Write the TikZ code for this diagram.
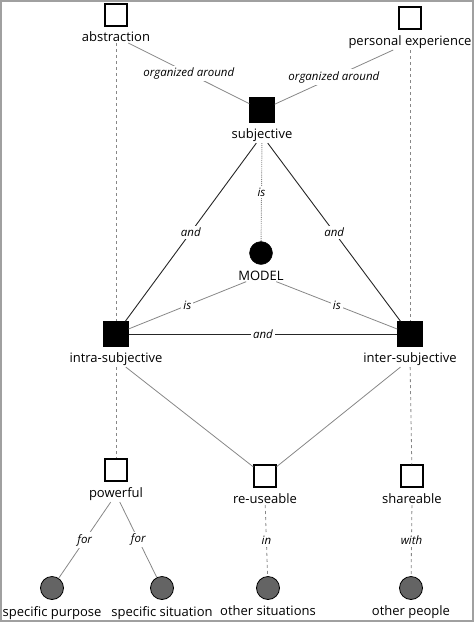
\documentclass[tikz,border=0pt]{standalone}
\usepackage{fontspec}
\setmainfont{Open Sans}
\usetikzlibrary{positioning}
\definecolor{linegray}{RGB}{135,135,135}
\definecolor{leafgray}{RGB}{100,100,100}
\definecolor{framegray}{RGB}{160,160,160}
\newcommand{\widthopen}{22pt}
\newcommand{\widthdark}{25pt}
\newcommand{\widthdot}{23pt}
\tikzset{
    common/.style={draw, rectangle, inner sep=0pt},
    openbox/.style={common, line width=1.2pt, minimum size=\widthopen},
    darkbox/.style={common, fill=black, minimum size=\widthdark},
    modeldot/.style={draw, circle, fill=black, minimum size=\widthdot},
    leafdot/.style={draw, circle, thick, fill=leafgray, minimum size=\widthdot},
    caption/.style={font=\fontsize{13}{15}\selectfont, inner sep=1pt},
    rel/.style={fill=white, font=\fontsize{11.5}{13}\selectfont\itshape, inner sep=2pt},
    strong/.style={draw=black!85, line width=0.9pt},
    weak/.style={draw=linegray, line width=0.8pt},
    hint/.style={draw=linegray, dashed, line width=0.8pt},
    link/.style={draw=linegray, densely dotted, line width=0.9pt}
}

\begin{document}
\begin{tikzpicture}[x=1pt, y=-1pt]
    \useasboundingbox (0,0) rectangle (474,622);
    \draw[framegray, line width=2pt] (1,1) rectangle (473,621);

    % top row
    \node[openbox] (abstraction) at (116,15) {};
    \node[caption, below=4pt of abstraction] (abstraction-text) {abstraction};
    \node[openbox] (experience) at (410,18) {};
    \node[caption, below=5pt of experience] (experience-text) {personal experience};

    % triangle
    \node[darkbox] (subjective) at (262,110) {};
    \node[caption, below=5pt of subjective] (subjective-text) {subjective};
    \node[modeldot] (model) at (261,253) {};
    \node[caption, below=5pt of model] (model-text) {MODEL};
    \node[darkbox] (intra) at (116,334) {};
    \node[caption, below=5pt of intra] (intra-text) {intra-subjective};
    \node[darkbox] (inter) at (410,334) {};
    \node[caption, below=5pt of inter] (inter-text) {inter-subjective};

    % qualities
    \node[openbox] (powerful) at (116,470) {};
    \node[caption, below=5pt of powerful] (powerful-text) {powerful};
    \node[openbox] (reuseable) at (265,476) {};
    \node[caption, below=5pt of reuseable] (reuseable-text) {re-useable};
    \node[openbox] (shareable) at (412,476) {};
    \node[caption, below=5pt of shareable] (shareable-text) {shareable};

    % leaves
    \node[leafdot] (purpose) at (52,588) {};
    \node[caption, below=5pt of purpose] (purpose-text) {specific purpose};
    \node[leafdot] (situation) at (162,588) {};
    \node[caption, below=5pt of situation] (situation-text) {specific situation};
    \node[leafdot] (situations) at (268,588) {};
    \node[caption, below=5pt of situations] (situations-text) {other situations};
    \node[leafdot] (people) at (411,588) {};
    \node[caption, below=5pt of people] (people-text) {other people};

    \draw[weak] (abstraction-text) -- node[rel] {organized around} (subjective);
    \draw[weak] (experience-text) -- node[rel] {organized around} (subjective);
    \draw[strong] (subjective-text) -- node[rel] {and} (intra);
    \draw[strong] (subjective-text) -- node[rel] {and} (inter);
    \draw[link] (subjective-text) -- node[rel] {is} (model);
    \draw[weak] (model-text) -- node[rel] {is} (intra);
    \draw[weak] (model-text) -- node[rel] {is} (inter);
    \draw[strong] (intra) -- node[rel] {and} (inter);
    \draw[weak] (intra-text) -- (reuseable);
    \draw[weak] (inter-text) -- (reuseable);

    \draw[hint] (abstraction-text) -- (intra);
    \draw[hint] (intra-text) -- (powerful);
    \draw[hint] (experience-text) -- (inter);
    \draw[hint] (inter-text) -- (shareable);

    \draw[weak] (powerful-text) -- node[rel] {for} (purpose);
    \draw[weak] (powerful-text) -- node[rel] {for} (situation);
    \draw[hint] (reuseable-text) -- node[rel] {in} (situations);
    \draw[hint] (shareable-text) -- node[rel] {with} (people);
\end{tikzpicture}
\end{document}
